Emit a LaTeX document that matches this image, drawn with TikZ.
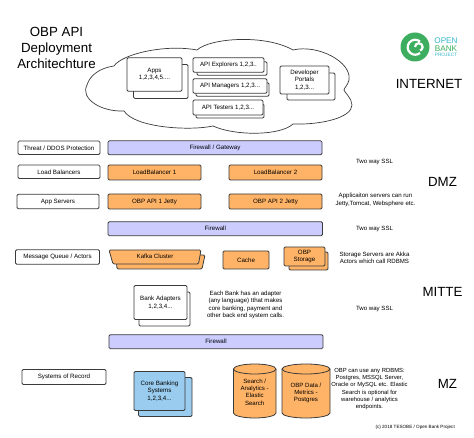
\documentclass[tikz,border=0pt]{standalone}
\usepackage{fontspec}
\setmainfont{Liberation Sans}
\definecolor{muro}{HTML}{CCCCFF}
\definecolor{naranja}{HTML}{FFB366}
\definecolor{azul}{HTML}{99CCEE}
\definecolor{borde}{HTML}{3A3A3A}
\definecolor{verdeobp}{HTML}{3DAE5F}
\definecolor{cianobp}{HTML}{35B5C9}
\tikzset{
  caja/.style={draw=borde, line width=0.8pt, rounded corners=1.3pt, fill=white, align=center,
    inner sep=0pt, font=\fontsize{6.2}{7.4}\selectfont},
  muroC/.style={caja, fill=muro, minimum height=14pt},
  servidor/.style={caja, fill=naranja},
  nota/.style={align=center, inner sep=0pt, font=\fontsize{6.1}{7.3}\selectfont},
  zona/.style={inner sep=0pt, font=\fontsize{13.3}{15}\selectfont}
}
\begin{document}
\begin{tikzpicture}[x=1pt, y=-1pt]
    \useasboundingbox (0,0) rectangle (474,438);

    % Titulo
    \node[align=center, inner sep=0pt, font=\fontsize{13.3}{16}\selectfont] (titulo) at (56.5, 47.5)
        {OBP API\\Deployment\\Architechture};

    % Nube de internet
    \draw[borde, line width=0.7pt] (114,66)
        .. controls (122,54) and (165,44) .. (197,50)
        .. controls (210,38) and (265,34) .. (293,50)
        .. controls (318,44) and (352,62) .. (349,80)
        .. controls (348,85) and (344,88) .. (344,90)
        .. controls (344,92) and (352,98) .. (352,105)
        .. controls (352,118) and (320,125) .. (293,124)
        .. controls (280,136) and (235,136) .. (213,126)
        .. controls (190,131) and (135,128) .. (124,111)
        .. controls (100,112) and (80,98) .. (87,85)
        .. controls (90,75) and (100,68) .. (114,66) -- cycle;

    \node[caja, minimum width=54.5pt, minimum height=34pt] (apps2) at (160.8, 81.5) {};
    \node[caja, minimum width=55pt, minimum height=33.5pt] (apps) at (154.5, 74.5) {Apps\\1,2,3,4,5....};
    \node[caja, minimum width=70pt, minimum height=13.5pt] (explorers2) at (232, 68.5) {};
    \node[caja, minimum width=71pt, minimum height=14.5pt] (explorers) at (228.5, 65) {API Explorers 1,2,3..};
    \node[caja, minimum width=73pt, minimum height=13.5pt] (managers2) at (232.5, 89.5) {};
    \node[caja, minimum width=74pt, minimum height=14.5pt] (managers) at (230, 86) {API Managers 1,2,3...};
    \node[caja, minimum width=68pt, minimum height=14pt] (testers2) at (230, 111) {};
    \node[caja, minimum width=70pt, minimum height=15pt] (testers) at (228, 107.5) {API Testers 1,2,3...};
    \node[caja, minimum width=48pt, minimum height=27pt] (portales2) at (311, 86.5) {};
    \node[caja, minimum width=49pt, minimum height=28pt] (portales) at (304.5, 80) {Developer\\Portals\\1,2,3...};

    % Logo
    \fill[verdeobp] (415,47) circle (14.5);
    \draw[white, line width=2.2pt] (420,41.5) arc (-50:-310:7.5);
    \draw[white, line width=2.2pt] (415,47) arc (180:430:3.8);
    \node[inner sep=0pt, text=cianobp, font=\fontsize{8.2}{9}\selectfont] (logoA) at (446, 41) {OPEN};
    \node[inner sep=0pt, text=verdeobp, font=\fontsize{8.2}{9}\selectfont] (logoB) at (446, 48.3) {BANK};
    \node[inner sep=0pt, text=cianobp, font=\fontsize{4.8}{5}\selectfont] (logoC) at (446, 54.8) {PROJECT};

    % Zonas
    \node[zona] (internet) at (429, 83.5) {INTERNET};
    \node[zona] (dmz) at (442.5, 182) {DMZ};
    \node[zona] (mitte) at (442.5, 292) {MITTE};
    \node[zona] (mz) at (447.5, 384) {MZ};

    % Columna izquierda
    \node[caja, minimum width=82pt, minimum height=13.5pt] (amenaza) at (59, 147.8) {Threat / DDOS Protection};
    \node[caja, minimum width=82pt, minimum height=13.5pt] (balanceadores) at (59, 171.8) {Load Balancers};
    \node[caja, minimum width=82pt, minimum height=14.5pt] (aplicaciones) at (58, 201.5) {App Servers};
    \node[caja, minimum width=84pt, minimum height=14.5pt] (mensajes) at (57.5, 257) {Message Queue / Actors};
    \node[caja, minimum width=84pt, minimum height=15pt] (registro) at (64, 377) {Systems of Record};

    % Firewalls
    \node[muroC, minimum width=214pt] (gateway) at (215, 147.8) {Firewall / Gateway};
    \node[muroC, minimum width=214.5pt] (muro1) at (215.3, 228.7) {Firewall};
    \node[muroC, minimum width=214pt] (muro2) at (216, 341.7) {Firewall};

    % Servidores
    \node[servidor, minimum width=93pt, minimum height=15pt] (lb1) at (154.5, 172.5) {LoadBalancer 1};
    \node[servidor, minimum width=93pt, minimum height=15pt] (lb2) at (275.5, 172.5) {LoadBalancer 2};
    \node[servidor, minimum width=93pt, minimum height=15pt] (api1) at (154.5, 201.5) {OBP API 1 Jetty};
    \node[servidor, minimum width=93pt, minimum height=15pt] (api2) at (275.5, 201.5) {OBP API 2 Jetty};

    % Kafka
    \draw[borde, line width=0.8pt, fill=naranja, rounded corners=1.3pt]
        (116,255) -- (205,255) -- (202,269) -- (117,269) -- cycle;
    \draw[borde, line width=0.8pt, fill=naranja, rounded corners=1.3pt]
        (109,250) -- (201,250) -- (198.5,264) -- (113,264) -- cycle;
    \node[nota] (kafka) at (155, 256) {Kafka Cluster};
    \node[servidor, minimum width=46pt, minimum height=18pt] (cache) at (246, 260) {Cache};
    \node[servidor, minimum width=39pt, minimum height=18pt] (storage2) at (308.5, 261) {};
    \node[servidor, minimum width=41pt, minimum height=19pt] (storage) at (304.5, 256.5) {OBP\\Storage};

    % Adaptadores
    \node[caja, minimum width=51pt, minimum height=34pt] (adaptadores2) at (164.5, 309) {};
    \node[caja, minimum width=53pt, minimum height=34pt] (adaptadores) at (160.5, 302.5) {Bank Adapters\\1,2,3,4...};

    % Sistemas centrales
    \node[caja, fill=azul, minimum width=53.5pt, minimum height=39pt] (core2) at (165.3, 397) {};
    \node[caja, fill=azul, minimum width=51pt, minimum height=39pt] (core) at (159.5, 391) {Core Banking\\Systems\\1,2,3,4...};

    % Cilindros
    \foreach \izq/\der in {233.5/276, 282/330}
    {
        \draw[borde, line width=0.8pt, fill=naranja] (\izq,369) -- (\izq,413)
            arc[start angle=180, end angle=0, x radius={(\der-\izq)/2}, y radius=5]
            -- (\der,369)
            arc[start angle=0, end angle=-180, x radius={(\der-\izq)/2}, y radius=5] -- cycle;
        \draw[borde, line width=0.8pt] (\izq,369)
            arc[start angle=180, end angle=0, x radius={(\der-\izq)/2}, y radius=5];
    }
    \node[nota] (busqueda) at (254.7, 392) {Search /\\Analytics -\\Elastic\\Search};
    \node[nota] (datos) at (306, 393) {OBP Data /\\Metrics -\\Postgres};

    % Notas
    \node[nota] (ssl1) at (374.5, 162) {Two way SSL};
    \node[nota] (servnota) at (375.5, 200) {Applicaiton servers can run\\Jetty,Tomcat, Websphere etc.};
    \node[nota] (ssl2) at (374.5, 229) {Two way SSL};
    \node[nota] (almnota) at (374.5, 258) {Storage Servers are Akka\\Actors which call RDBMS};
    \node[nota] (adaptnota) at (245.5, 305) {Each Bank has an adapter\\(any language) tthat makes\\core banking, payment and\\other back end system calls.};
    \node[nota] (ssl3) at (374.5, 309) {Two way SSL};
    \node[nota, font=\fontsize{5.9}{7.3}\selectfont] (rdbmsnota) at (369.5, 389) {OBP can use any RDBMS:\\Postgres, MSSQL Server,\\Oracle or MySQL etc. Elastic\\Search is optional for\\warehouse / analytics\\endpoints.};
    \node[inner sep=0pt, anchor=east, font=\fontsize{4.6}{5}\selectfont] (creditos) at (455, 427) {(c) 2018 TESOBE / Open Bank Project};
\end{tikzpicture}
\end{document}
